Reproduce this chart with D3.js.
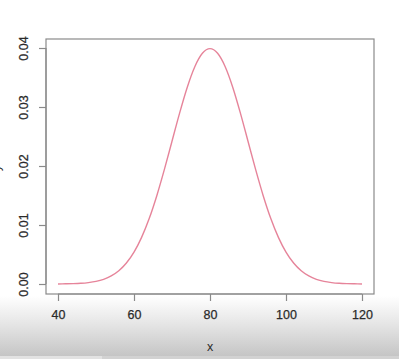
<!DOCTYPE html>
<html>
<head>
<meta charset="utf-8">
<script src="https://cdn.jsdelivr.net/npm/d3@7"></script>
<style>
  html, body { margin: 0; padding: 0; background: #fff; overflow: hidden; }
  svg { display: block; font-family: "Liberation Sans", Arial, sans-serif; }
</style>
</head>
<body>
<div id="chart"></div>
<script>
// values, every 2 units of x
var xs = [40, 42, 44, 46, 48, 50, 52, 54, 56, 58, 60, 62, 64, 66, 68, 70, 72, 74, 76, 78,
          80, 82, 84, 86, 88, 90, 92, 94, 96, 98, 100, 102, 104, 106, 108, 110, 112, 114, 116, 118, 120];
var ys = [0.00001, 0.00003, 0.00006, 0.00012, 0.00024, 0.00044, 0.00079, 0.00136, 0.00224, 0.00355,
          0.00540, 0.00790, 0.01109, 0.01497, 0.01942, 0.02420, 0.02897, 0.03332, 0.03683, 0.03910,
          0.03989,
          0.03910, 0.03683, 0.03332, 0.02897, 0.02420, 0.01942, 0.01497, 0.01109, 0.00790, 0.00540,
          0.00355, 0.00224, 0.00136, 0.00079, 0.00044, 0.00024, 0.00012, 0.00006, 0.00003, 0.00001];
var xTicks = [40, 60, 80, 100, 120];
var yTicks = [0, 0.01, 0.02, 0.03, 0.04];

var W = 399, H = 359;
var box = { left: 46, right: 374, top: 39, bottom: 294 };

var svg = d3.select('#chart').append('svg')
    .attr('width', W)
    .attr('height', H);

// grey band at the bottom of the frame
var defs = svg.append('defs');
var grad = defs.append('linearGradient')
    .attr('id', 'band')
    .attr('x1', 0).attr('y1', 0).attr('x2', 0).attr('y2', 1);
grad.append('stop').attr('offset', '0%').attr('stop-color', '#ffffff');
grad.append('stop').attr('offset', '45%').attr('stop-color', '#e6e6e6');
grad.append('stop').attr('offset', '100%').attr('stop-color', '#c4c4c4');
svg.append('rect')
    .attr('x', 0).attr('y', 296)
    .attr('width', W).attr('height', 61)
    .attr('fill', 'url(#band)');
svg.append('rect')
    .attr('x', 0).attr('y', 356)
    .attr('width', W).attr('height', 3)
    .attr('fill', '#d2d2d2');
svg.append('rect')
    .attr('x', 0).attr('y', 356)
    .attr('width', 102).attr('height', 3)
    .attr('fill', '#e2e2e2');

var x = d3.scaleLinear().domain([40, 120]).range([58, 362]);
var y = d3.scaleLinear().domain([0, 0.04]).range([284, 48]);

// plot box
svg.append('rect')
    .attr('x', box.left).attr('y', box.top)
    .attr('width', box.right - box.left)
    .attr('height', box.bottom - box.top)
    .attr('fill', 'none')
    .attr('stroke', '#8a8a8a')
    .attr('stroke-width', 1.2);

// x axis
var xAxis = d3.axisBottom(x)
    .tickValues(xTicks)
    .tickSize(7)
    .tickPadding(9)
    .tickFormat(d3.format('d'));
var gx = svg.append('g')
    .attr('transform', 'translate(0,' + box.bottom + ')')
    .call(xAxis);
gx.select('.domain')
    .attr('d', 'M' + x(40) + ',0H' + x(120));

// y axis
var yAxis = d3.axisLeft(y)
    .tickValues(yTicks)
    .tickSize(7)
    .tickFormat(d3.format('.2f'));
var gy = svg.append('g')
    .attr('transform', 'translate(' + box.left + ',0)')
    .call(yAxis);
gy.select('.domain')
    .attr('d', 'M0,' + y(0) + 'V' + y(0.04));
gy.selectAll('.tick text')
    .attr('x', 0).attr('dy', 0)
    .attr('text-anchor', 'middle')
    .attr('transform', 'translate(-18,0) rotate(-90)');

svg.selectAll('.domain, .tick line')
    .attr('stroke', '#8a8a8a')
    .attr('stroke-width', 1.2);
svg.selectAll('.tick text')
    .attr('fill', '#2a2a2a')
    .attr('stroke', '#2a2a2a')
    .attr('stroke-width', 0.25)
    .style('font-size', '12.5px')
    .style('font-family', '"Liberation Sans", Arial, sans-serif');

// axis titles
svg.append('text')
    .attr('x', x(80)).attr('y', 351)
    .attr('text-anchor', 'middle')
    .attr('fill', '#2a2a2a')
    .style('font-size', '12.5px')
    .text('x');
// the y title sits mostly off the left edge, as in the original
svg.append('text')
    .attr('transform', 'translate(0,168) rotate(-90)')
    .attr('text-anchor', 'middle')
    .attr('fill', '#2a2a2a')
    .style('font-size', '12.5px')
    .text('y');

// density curve
var line = d3.line()
    .x(function (d, i) { return x(xs[i]); })
    .y(function (d) { return y(d); })
    .curve(d3.curveMonotoneX);
svg.append('path')
    .datum(ys)
    .attr('d', line)
    .attr('fill', 'none')
    .attr('stroke', '#e6849a')
    .attr('stroke-width', 1.4);
</script>
</body>
</html>
